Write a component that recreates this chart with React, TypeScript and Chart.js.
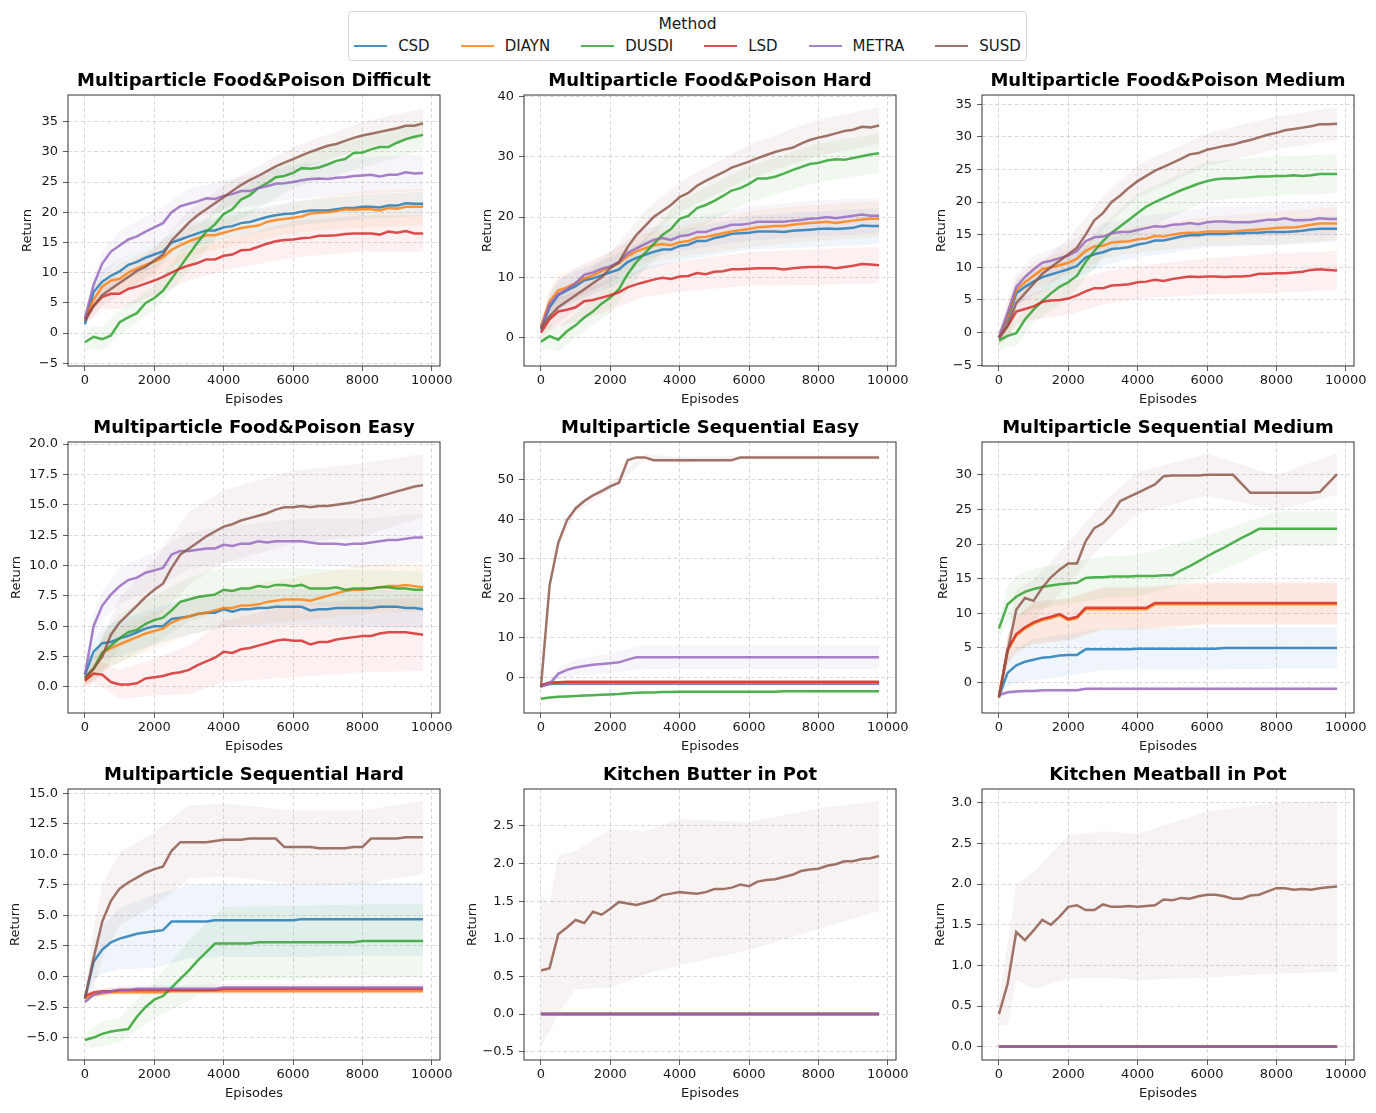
import Chart from 'chart.js/auto';
import { useEffect, useRef } from 'react';

Chart.defaults.font.family = 'DejaVu Sans';

const METHODS = ['CSD', 'DIAYN', 'DUSDI', 'LSD', 'METRA', 'SUSD'];
const COLORS = ['31,119,180', '255,127,14', '44,160,44', '214,39,40', '148,103,189', '140,86,75'];

const EPISODES = [
	0, 250, 500, 750, 1000, 1250, 1500, 1750, 2000, 2250,
	2500, 2750, 3000, 3250, 3500, 3750, 4000, 4250, 4500, 4750,
	5000, 5250, 5500, 5750, 6000, 6250, 6500, 6750, 7000, 7250,
	7500, 7750, 8000, 8250, 8500, 8750, 9000, 9250, 9500, 9750,
];
// std bands are read at fewer episodes
const BAND_EPISODES = [0, 250, 500, 1000, 2000, 3000, 4000, 6000, 8000, 9750];
const X_TICKS = [0, 2000, 4000, 6000, 8000, 10000];

const FLAT_ZERO = [
	0, 0, 0, 0, 0, 0, 0, 0, 0, 0,
	0, 0, 0, 0, 0, 0, 0, 0, 0, 0,
	0, 0, 0, 0, 0, 0, 0, 0, 0, 0,
	0, 0, 0, 0, 0, 0, 0, 0, 0, 0,
];

// Multiparticle Food&Poison Difficult
const difficultMean: Record<string, number[]> = {
	CSD: [
		1.5, 6.8, 8.5, 9.5, 10.2, 11.3, 11.8, 12.5, 13.0, 13.5,
		15.0, 15.5, 16.0, 16.5, 17.0, 17.0, 17.5, 17.7, 18.2, 18.4,
		18.8, 19.2, 19.5, 19.7, 19.8, 20.1, 20.3, 20.3, 20.3, 20.5,
		20.7, 20.7, 20.9, 20.9, 20.8, 21.1, 21.1, 21.5, 21.4, 21.4,
	],
	DIAYN: [
		2.5, 5.5, 7.7, 8.7, 9.0, 10.0, 10.7, 11.3, 11.8, 12.5,
		13.8, 14.5, 15.2, 15.7, 16.2, 16.2, 16.6, 17.0, 17.4, 17.6,
		17.8, 18.4, 18.7, 18.9, 19.1, 19.3, 19.8, 19.9, 20.0, 20.2,
		20.5, 20.4, 20.5, 20.5, 20.3, 20.7, 20.6, 20.9, 20.9, 20.9,
	],
	DUSDI: [
		-1.5, -0.6, -1.0, -0.4, 1.8, 2.6, 3.3, 5.0, 5.8, 7.0,
		9.0, 11.0, 13.0, 15.0, 16.8, 18.0, 19.7, 20.5, 22.1, 22.8,
		24.0, 24.8, 25.8, 26.0, 26.5, 27.3, 27.2, 27.4, 27.9, 28.5,
		28.8, 29.8, 29.9, 30.4, 30.8, 30.8, 31.5, 32.1, 32.5, 32.8,
	],
	LSD: [
		2.3, 4.5, 6.0, 6.5, 6.5, 7.3, 7.7, 8.2, 8.7, 9.3,
		10.0, 10.7, 11.2, 11.6, 12.2, 12.2, 12.8, 13.0, 13.7, 13.8,
		14.3, 14.8, 15.2, 15.4, 15.5, 15.7, 15.8, 16.1, 16.1, 16.2,
		16.4, 16.5, 16.5, 16.5, 16.3, 16.8, 16.6, 16.9, 16.5, 16.5,
	],
	METRA: [
		2.5, 8.0, 11.5, 13.5, 14.5, 15.5, 16.0, 16.8, 17.5, 18.2,
		20.0, 21.0, 21.4, 21.8, 22.3, 22.2, 22.7, 23.0, 23.5, 23.5,
		24.0, 24.3, 24.7, 24.8, 25.0, 25.3, 25.5, 25.6, 25.5, 25.7,
		25.8, 26.0, 26.1, 26.2, 25.9, 26.2, 26.2, 26.6, 26.4, 26.5,
	],
	SUSD: [
		2.0, 4.5, 6.3, 7.3, 8.3, 9.3, 10.3, 11.0, 12.0, 13.0,
		15.3, 16.8, 18.3, 19.5, 20.5, 21.5, 22.5, 23.5, 24.5, 25.3,
		26.0, 26.8, 27.6, 28.2, 28.8, 29.4, 30.0, 30.5, 31.0, 31.3,
		31.8, 32.3, 32.7, 33.0, 33.3, 33.6, 33.9, 34.3, 34.3, 34.7,
	],
};
const difficultSpread: Record<string, number[]> = {
	CSD: [0.8, 1.8, 2, 2, 2, 2, 2, 2, 2, 2],
	DIAYN: [0.8, 1.8, 2, 2.5, 2.5, 2.5, 2.5, 2.5, 3, 3],
	DUSDI: [1.5, 1.8, 2, 2, 2, 2.5, 2.5, 2.5, 2.5, 2.5],
	LSD: [0.8, 1.8, 2, 2.5, 2.5, 2.5, 2.5, 3, 3, 3],
	METRA: [0.8, 1.8, 2, 2.5, 2.5, 2.5, 2.5, 2.8, 3, 3],
	SUSD: [0.8, 1.5, 1.8, 2, 2, 2, 2, 2, 2.2, 2.5],
};

// Multiparticle Food&Poison Hard
const hardMean: Record<string, number[]> = {
	CSD: [
		1.3, 5.0, 7.0, 7.8, 8.5, 9.5, 9.8, 10.3, 10.8, 11.3,
		12.5, 13.2, 13.7, 14.2, 14.6, 14.6, 15.2, 15.4, 16.0, 16.0,
		16.5, 16.8, 17.2, 17.3, 17.4, 17.6, 17.6, 17.6, 17.5, 17.7,
		17.8, 17.9, 18.0, 18.1, 18.0, 18.1, 18.2, 18.6, 18.5, 18.5,
	],
	DIAYN: [
		1.8, 6.0, 7.8, 8.3, 9.0, 9.8, 10.3, 11.0, 11.7, 12.3,
		13.5, 14.3, 14.8, 15.3, 15.5, 15.3, 15.8, 16.0, 16.6, 16.7,
		17.0, 17.3, 17.6, 17.8, 18.0, 18.3, 18.4, 18.5, 18.5, 18.7,
		18.9, 19.0, 19.1, 19.2, 19.0, 19.2, 19.4, 19.6, 19.7, 19.7,
	],
	DUSDI: [
		-0.7, 0.2, -0.4, 1.0, 2.0, 3.3, 4.3, 5.6, 6.6, 8.0,
		10.5, 12.5, 14.0, 15.5, 17.0, 18.0, 19.7, 20.2, 21.5, 22.0,
		22.7, 23.5, 24.4, 24.8, 25.5, 26.4, 26.4, 26.7, 27.2, 27.8,
		28.3, 28.8, 29.0, 29.4, 29.6, 29.5, 29.8, 30.1, 30.4, 30.6,
	],
	LSD: [
		0.8, 3.0, 4.3, 4.6, 5.0, 6.0, 6.2, 6.6, 7.0, 7.5,
		8.3, 8.8, 9.2, 9.6, 9.9, 9.7, 10.1, 10.2, 10.7, 10.5,
		10.9, 11.0, 11.3, 11.3, 11.4, 11.5, 11.5, 11.5, 11.3, 11.5,
		11.6, 11.7, 11.7, 11.7, 11.5, 11.7, 11.9, 12.2, 12.1, 12.0,
	],
	METRA: [
		1.5, 5.5, 7.2, 8.0, 9.0, 10.4, 10.8, 11.4, 11.8, 12.5,
		14.0, 14.8, 15.5, 16.2, 16.5, 16.2, 16.8, 17.0, 17.5, 17.5,
		18.0, 18.3, 18.7, 18.7, 18.9, 19.2, 19.2, 19.2, 19.2, 19.4,
		19.5, 19.7, 19.8, 20.0, 19.8, 20.0, 20.2, 20.4, 20.2, 20.2,
	],
	SUSD: [
		1.5, 3.5, 5.0, 6.0, 7.0, 8.0, 9.0, 10.0, 11.5, 12.5,
		15.0, 17.0, 18.5, 20.0, 21.0, 22.0, 23.3, 24.0, 25.2, 26.0,
		26.7, 27.4, 28.2, 28.7, 29.2, 29.8, 30.3, 30.8, 31.2, 31.5,
		32.2, 32.8, 33.2, 33.5, 33.9, 34.3, 34.5, 35.0, 34.9, 35.2,
	],
};
const hardSpread: Record<string, number[]> = {
	CSD: [0.8, 2, 2.5, 2.5, 2.5, 2.5, 2.5, 2.8, 3, 3],
	DIAYN: [0.8, 2, 2.5, 2.5, 2.5, 2.5, 2.5, 3, 3, 3],
	DUSDI: [1.5, 2, 2, 2, 2.5, 2.5, 3, 3, 3.2, 3.3],
	LSD: [0.8, 2, 2.5, 2.5, 2.5, 2.5, 2.5, 2.8, 3, 3],
	METRA: [0.8, 2, 2.5, 2.5, 2.5, 2.5, 2.5, 2.8, 3, 3],
	SUSD: [0.8, 2, 2.5, 2.5, 2.5, 2.5, 2.5, 2.8, 3, 3],
};

// Multiparticle Food&Poison Medium
const mediumMean: Record<string, number[]> = {
	CSD: [
		-0.8, 2.0, 6.0, 7.0, 7.8, 8.5, 8.9, 9.3, 9.7, 10.2,
		11.5, 12.0, 12.3, 12.8, 12.9, 13.1, 13.5, 13.7, 14.1, 14.1,
		14.4, 14.7, 14.9, 14.9, 15.1, 15.1, 15.1, 15.2, 15.2, 15.3,
		15.3, 15.4, 15.4, 15.4, 15.5, 15.6, 15.8, 15.9, 15.9, 15.9,
	],
	DIAYN: [
		-0.8, 2.5, 6.5, 7.7, 8.7, 9.7, 10.0, 10.3, 10.7, 11.3,
		12.5, 13.2, 13.3, 13.8, 13.9, 14.0, 14.3, 14.4, 14.8, 14.7,
		15.0, 15.2, 15.3, 15.3, 15.5, 15.5, 15.5, 15.5, 15.6, 15.7,
		15.8, 15.9, 16.0, 16.1, 16.1, 16.3, 16.5, 16.7, 16.7, 16.7,
	],
	DUSDI: [
		-1.2, -0.5, -0.1, 2.0, 3.5, 4.8, 6.0, 7.0, 7.7, 8.7,
		10.8, 12.5, 14.0, 15.3, 16.3, 17.3, 18.3, 19.3, 20.0, 20.6,
		21.2, 21.8, 22.3, 22.8, 23.2, 23.5, 23.6, 23.6, 23.7, 23.8,
		23.9, 23.9, 24.0, 24.0, 24.1, 24.0, 24.1, 24.3, 24.3, 24.3,
	],
	LSD: [
		-0.8, 1.0, 3.2, 3.6, 4.0, 4.7, 4.9, 5.0, 5.2, 5.7,
		6.3, 6.8, 6.8, 7.2, 7.3, 7.4, 7.7, 7.8, 8.1, 7.9,
		8.2, 8.4, 8.6, 8.5, 8.6, 8.6, 8.5, 8.6, 8.6, 8.7,
		9.0, 9.0, 9.1, 9.1, 9.2, 9.3, 9.6, 9.7, 9.6, 9.5,
	],
	METRA: [
		-0.8, 3.0, 7.0, 8.5, 9.7, 10.7, 11.0, 11.4, 11.8, 12.5,
		14.0, 14.6, 14.7, 15.2, 15.4, 15.4, 15.7, 16.0, 16.3, 16.2,
		16.5, 16.6, 16.8, 16.6, 16.9, 17.0, 17.0, 16.9, 16.9, 16.9,
		17.1, 17.3, 17.3, 17.5, 17.2, 17.2, 17.3, 17.5, 17.4, 17.4,
	],
	SUSD: [
		-0.8, 1.0, 4.5, 6.0, 7.5, 9.0, 10.0, 11.0, 12.0, 13.0,
		15.0, 17.2, 18.3, 20.0, 21.0, 22.2, 23.2, 24.0, 24.8, 25.4,
		26.0, 26.6, 27.3, 27.5, 28.0, 28.3, 28.6, 28.8, 29.2, 29.5,
		29.9, 30.3, 30.6, 31.0, 31.2, 31.4, 31.6, 31.9, 31.9, 32.0,
	],
};
const mediumSpread: Record<string, number[]> = {
	CSD: [1, 2, 2, 2, 2, 2, 2, 2, 2, 2],
	DIAYN: [1, 2, 2, 2, 2, 2, 2, 2.2, 2.5, 2.5],
	DUSDI: [1.5, 1.8, 2, 2, 2.5, 2.5, 3, 3, 3, 3],
	LSD: [1, 2, 2, 2, 2.5, 2.5, 2.5, 2.8, 3, 3],
	METRA: [1, 2, 2, 2, 2, 2, 2, 2.3, 2.5, 2.5],
	SUSD: [1, 1.5, 2, 2, 2.5, 2.5, 2.5, 2.5, 2.5, 2.5],
};

// Multiparticle Food&Poison Easy
const easyMean: Record<string, number[]> = {
	CSD: [
		1.0, 2.9, 3.6, 3.7, 4.0, 4.2, 4.5, 4.8, 5.0, 5.0,
		5.6, 5.7, 5.8, 6.0, 6.1, 6.1, 6.4, 6.2, 6.4, 6.4,
		6.5, 6.5, 6.6, 6.6, 6.6, 6.6, 6.3, 6.4, 6.4, 6.5,
		6.5, 6.5, 6.5, 6.5, 6.6, 6.6, 6.6, 6.5, 6.5, 6.4,
	],
	DIAYN: [
		0.5, 1.5, 2.8, 3.2, 3.5, 3.8, 4.1, 4.4, 4.6, 4.8,
		5.3, 5.6, 5.8, 6.0, 6.1, 6.3, 6.5, 6.5, 6.7, 6.7,
		6.8, 7.0, 7.1, 7.2, 7.2, 7.2, 7.1, 7.3, 7.5, 7.7,
		7.9, 8.0, 8.0, 8.1, 8.2, 8.3, 8.3, 8.4, 8.3, 8.2,
	],
	DUSDI: [
		0.8, 1.5, 2.8, 3.4, 4.0, 4.5, 4.7, 5.2, 5.5, 5.7,
		6.3, 7.0, 7.2, 7.4, 7.5, 7.6, 8.0, 7.9, 8.1, 8.1,
		8.3, 8.2, 8.4, 8.4, 8.3, 8.4, 8.1, 8.1, 8.1, 8.2,
		8.0, 8.1, 8.1, 8.1, 8.2, 8.2, 8.1, 8.1, 8.0, 8.0,
	],
	LSD: [
		0.5, 1.1, 1.0, 0.4, 0.2, 0.2, 0.3, 0.7, 0.8, 0.9,
		1.1, 1.2, 1.4, 1.8, 2.1, 2.4, 2.9, 2.8, 3.1, 3.2,
		3.4, 3.6, 3.8, 3.9, 3.8, 3.8, 3.5, 3.7, 3.7, 3.9,
		4.0, 4.1, 4.2, 4.2, 4.4, 4.5, 4.5, 4.5, 4.4, 4.3,
	],
	METRA: [
		1.0, 5.0, 6.7, 7.6, 8.3, 8.8, 9.0, 9.4, 9.6, 9.8,
		10.9, 11.2, 11.2, 11.3, 11.4, 11.4, 11.7, 11.6, 11.8, 11.8,
		12.0, 11.9, 12.0, 12.0, 12.0, 12.0, 11.9, 11.8, 11.8, 11.8,
		11.7, 11.8, 11.8, 11.9, 12.0, 12.1, 12.1, 12.2, 12.3, 12.3,
	],
	SUSD: [
		0.7, 1.5, 2.5, 4.3, 5.3, 6.0, 6.7, 7.4, 8.0, 8.5,
		9.8, 10.9, 11.4, 11.9, 12.4, 12.8, 13.2, 13.4, 13.7, 13.9,
		14.1, 14.3, 14.6, 14.8, 14.8, 14.9, 14.8, 14.9, 14.9, 15.0,
		15.1, 15.2, 15.4, 15.5, 15.7, 15.9, 16.1, 16.3, 16.5, 16.6,
	],
};
const easySpread: Record<string, number[]> = {
	CSD: [0.5, 1, 1.3, 1.5, 1.5, 1.5, 1.5, 1.5, 1.5, 1.5],
	DIAYN: [0.5, 1, 1.3, 1.5, 1.5, 1.5, 1.5, 1.8, 2, 2],
	DUSDI: [0.5, 1, 1.5, 2, 2, 1.8, 1.8, 1.5, 1.5, 1.5],
	LSD: [0.5, 0.8, 1, 1.2, 1.5, 2, 2.5, 3, 3, 3],
	METRA: [0.5, 1, 1.2, 1.5, 1.5, 1.5, 1.5, 1.8, 2, 2],
	SUSD: [0.5, 1, 1.5, 2, 2.5, 3, 3, 3, 3, 2.6],
};

// Multiparticle Sequential Easy
const seqEasyMean: Record<string, number[]> = {
	CSD: [
		-2.2, -1.7, -1.6, -1.6, -1.6, -1.6, -1.6, -1.6, -1.6, -1.6,
		-1.6, -1.6, -1.6, -1.6, -1.6, -1.6, -1.6, -1.6, -1.6, -1.6,
		-1.6, -1.6, -1.6, -1.6, -1.6, -1.6, -1.6, -1.6, -1.6, -1.6,
		-1.6, -1.6, -1.6, -1.6, -1.6, -1.6, -1.6, -1.6, -1.6, -1.6,
	],
	DIAYN: [
		-2.2, -1.5, -1.4, -1.4, -1.4, -1.4, -1.4, -1.4, -1.4, -1.4,
		-1.4, -1.4, -1.4, -1.4, -1.4, -1.4, -1.4, -1.4, -1.4, -1.4,
		-1.4, -1.4, -1.4, -1.4, -1.4, -1.4, -1.4, -1.4, -1.4, -1.4,
		-1.4, -1.4, -1.4, -1.4, -1.4, -1.4, -1.4, -1.4, -1.4, -1.4,
	],
	DUSDI: [
		-5.4, -5.1, -4.9, -4.8, -4.7, -4.6, -4.5, -4.4, -4.3, -4.2,
		-4.0, -3.9, -3.8, -3.8, -3.7, -3.7, -3.6, -3.6, -3.6, -3.6,
		-3.6, -3.6, -3.6, -3.6, -3.6, -3.6, -3.6, -3.6, -3.5, -3.5,
		-3.5, -3.5, -3.5, -3.5, -3.5, -3.5, -3.5, -3.5, -3.5, -3.5,
	],
	LSD: [
		-2.0, -1.3, -1.2, -1.1, -1.1, -1.1, -1.1, -1.1, -1.1, -1.1,
		-1.1, -1.1, -1.1, -1.1, -1.1, -1.1, -1.1, -1.1, -1.1, -1.1,
		-1.1, -1.1, -1.1, -1.1, -1.1, -1.1, -1.1, -1.1, -1.1, -1.1,
		-1.1, -1.1, -1.1, -1.1, -1.1, -1.1, -1.1, -1.1, -1.1, -1.1,
	],
	METRA: [
		-2.3, -1.6, 0.9, 1.9, 2.5, 2.9, 3.2, 3.4, 3.6, 3.8,
		4.5, 5.1, 5.1, 5.1, 5.1, 5.1, 5.1, 5.1, 5.1, 5.1,
		5.1, 5.1, 5.1, 5.1, 5.1, 5.1, 5.1, 5.1, 5.1, 5.1,
		5.1, 5.1, 5.1, 5.1, 5.1, 5.1, 5.1, 5.1, 5.1, 5.1,
	],
	SUSD: [
		-2.5, 23.2, 34.0, 39.7, 42.7, 44.6, 46.0, 47.1, 48.3, 49.2,
		54.9, 55.6, 55.6, 54.9, 54.9, 54.9, 54.9, 54.9, 54.9, 54.9,
		54.9, 54.9, 54.9, 55.6, 55.6, 55.6, 55.6, 55.6, 55.6, 55.6,
		55.6, 55.6, 55.6, 55.6, 55.6, 55.6, 55.6, 55.6, 55.6, 55.6,
	],
};
const seqEasySpread: Record<string, number[]> = {
	CSD: [0.3, 0.3, 0.3, 0.3, 0.3, 0.3, 0.3, 0.3, 0.3, 0.3],
	DIAYN: [0.3, 0.3, 0.3, 0.3, 0.3, 0.3, 0.3, 0.3, 0.3, 0.3],
	DUSDI: [0.3, 0.3, 0.3, 0.3, 0.3, 0.3, 0.3, 0.3, 0.3, 0.3],
	LSD: [0.3, 0.3, 0.3, 0.3, 0.3, 0.3, 0.3, 0.3, 0.3, 0.3],
	METRA: [0.2, 0.5, 1.5, 2, 2.5, 3, 3, 3, 3, 3],
	SUSD: [0.5, 1, 1, 1, 1, 0.8, 0.8, 0.5, 0.5, 0.5],
};

// Multiparticle Sequential Medium
const seqMediumMean: Record<string, number[]> = {
	CSD: [
		-2.0, 1.4, 2.5, 3.0, 3.3, 3.6, 3.7, 3.9, 4.0, 4.0,
		4.8, 4.8, 4.8, 4.8, 4.8, 4.8, 4.9, 4.9, 4.9, 4.9,
		4.9, 4.9, 4.9, 4.9, 4.9, 4.9, 5.0, 5.0, 5.0, 5.0,
		5.0, 5.0, 5.0, 5.0, 5.0, 5.0, 5.0, 5.0, 5.0, 5.0,
	],
	DIAYN: [
		-2.1, 4.6, 6.8, 7.8, 8.5, 9.0, 9.3, 9.7, 9.0, 9.3,
		10.6, 10.6, 10.6, 10.6, 10.6, 10.6, 10.6, 10.6, 11.3, 11.3,
		11.3, 11.3, 11.3, 11.3, 11.3, 11.3, 11.3, 11.3, 11.3, 11.3,
		11.3, 11.3, 11.3, 11.3, 11.3, 11.3, 11.3, 11.3, 11.3, 11.3,
	],
	DUSDI: [
		7.8, 11.3, 12.4, 13.1, 13.5, 13.8, 14.0, 14.2, 14.3, 14.4,
		15.1, 15.2, 15.2, 15.3, 15.3, 15.3, 15.4, 15.4, 15.4, 15.5,
		15.5, 16.2, 16.8, 17.5, 18.2, 18.9, 19.5, 20.2, 20.9, 21.5,
		22.2, 22.2, 22.2, 22.2, 22.2, 22.2, 22.2, 22.2, 22.2, 22.2,
	],
	LSD: [
		-2.0, 4.8, 7.0, 8.0, 8.7, 9.2, 9.5, 9.9, 9.2, 9.5,
		10.8, 10.8, 10.8, 10.8, 10.8, 10.8, 10.8, 10.8, 11.5, 11.5,
		11.5, 11.5, 11.5, 11.5, 11.5, 11.5, 11.5, 11.5, 11.5, 11.5,
		11.5, 11.5, 11.5, 11.5, 11.5, 11.5, 11.5, 11.5, 11.5, 11.5,
	],
	METRA: [
		-1.8, -1.4, -1.3, -1.2, -1.2, -1.1, -1.1, -1.1, -1.1, -1.1,
		-0.9, -0.9, -0.9, -0.9, -0.9, -0.9, -0.9, -0.9, -0.9, -0.9,
		-0.9, -0.9, -0.9, -0.9, -0.9, -0.9, -0.9, -0.9, -0.9, -0.9,
		-0.9, -0.9, -0.9, -0.9, -0.9, -0.9, -0.9, -0.9, -0.9, -0.9,
	],
	SUSD: [
		-2.2, 4.5, 10.5, 12.2, 11.8, 13.7, 15.2, 16.3, 17.2, 17.2,
		20.4, 22.3, 23.0, 24.3, 26.2, 26.8, 27.4, 28.0, 28.6, 29.8,
		29.9, 29.9, 29.9, 29.9, 30.0, 30.0, 30.0, 30.0, 28.7, 27.4,
		27.4, 27.4, 27.4, 27.4, 27.4, 27.4, 27.4, 27.5, 28.8, 30.1,
	],
};
const seqMediumSpread: Record<string, number[]> = {
	CSD: [0.3, 2, 2.5, 3, 3, 3, 3, 3, 3, 3],
	DIAYN: [0.3, 2, 2.5, 3, 3, 3, 3, 3, 3, 3],
	DUSDI: [1.5, 2.5, 3, 3, 3, 3, 3, 3, 2.5, 2.5],
	LSD: [0.3, 2, 2.5, 3, 3, 3, 3, 3, 3, 3],
	METRA: [0.3, 0.3, 0.3, 0.3, 0.3, 0.3, 0.3, 0.3, 0.3, 0.3],
	SUSD: [0.3, 2, 3, 3, 3, 3, 3, 3, 2.5, 3],
};

// Multiparticle Sequential Hard
const seqHardMean: Record<string, number[]> = {
	CSD: [
		-1.8, 1.2, 2.2, 2.8, 3.1, 3.3, 3.5, 3.6, 3.7, 3.8,
		4.5, 4.5, 4.5, 4.5, 4.5, 4.6, 4.6, 4.6, 4.6, 4.6,
		4.6, 4.6, 4.6, 4.6, 4.6, 4.7, 4.7, 4.7, 4.7, 4.7,
		4.7, 4.7, 4.7, 4.7, 4.7, 4.7, 4.7, 4.7, 4.7, 4.7,
	],
	DIAYN: [
		-1.8, -1.5, -1.4, -1.3, -1.3, -1.3, -1.3, -1.3, -1.3, -1.3,
		-1.2, -1.2, -1.2, -1.2, -1.2, -1.2, -1.2, -1.2, -1.2, -1.2,
		-1.2, -1.2, -1.2, -1.2, -1.2, -1.2, -1.2, -1.2, -1.2, -1.2,
		-1.2, -1.2, -1.2, -1.2, -1.2, -1.2, -1.2, -1.2, -1.2, -1.2,
	],
	DUSDI: [
		-5.2, -5.0, -4.7, -4.5, -4.4, -4.3, -3.3, -2.5, -1.9, -1.6,
		-0.9, -0.2, 0.5, 1.3, 2.0, 2.7, 2.7, 2.7, 2.7, 2.7,
		2.8, 2.8, 2.8, 2.8, 2.8, 2.8, 2.8, 2.8, 2.8, 2.8,
		2.8, 2.8, 2.9, 2.9, 2.9, 2.9, 2.9, 2.9, 2.9, 2.9,
	],
	LSD: [
		-1.6, -1.3, -1.2, -1.2, -1.1, -1.1, -1.1, -1.1, -1.1, -1.1,
		-1.1, -1.1, -1.1, -1.1, -1.1, -1.1, -1.0, -1.0, -1.0, -1.0,
		-1.0, -1.0, -1.0, -1.0, -1.0, -1.0, -1.0, -1.0, -1.0, -1.0,
		-1.0, -1.0, -1.0, -1.0, -1.0, -1.0, -1.0, -1.0, -1.0, -1.0,
	],
	METRA: [
		-2.1, -1.5, -1.3, -1.2, -1.1, -1.1, -1.0, -1.0, -1.0, -1.0,
		-1.0, -1.0, -1.0, -1.0, -1.0, -1.0, -0.9, -0.9, -0.9, -0.9,
		-0.9, -0.9, -0.9, -0.9, -0.9, -0.9, -0.9, -0.9, -0.9, -0.9,
		-0.9, -0.9, -0.9, -0.9, -0.9, -0.9, -0.9, -0.9, -0.9, -0.9,
	],
	SUSD: [
		-1.8, 1.5, 4.5, 6.2, 7.2, 7.7, 8.1, 8.5, 8.8, 9.0,
		10.3, 11.0, 11.0, 11.0, 11.0, 11.1, 11.2, 11.2, 11.2, 11.3,
		11.3, 11.3, 11.3, 10.6, 10.6, 10.6, 10.6, 10.5, 10.5, 10.5,
		10.5, 10.6, 10.6, 11.3, 11.3, 11.3, 11.3, 11.4, 11.4, 11.4,
	],
};
const seqHardSpread: Record<string, number[]> = {
	CSD: [0.3, 1.5, 2, 2.5, 3, 3, 3, 3, 3, 3],
	DIAYN: [0.2, 0.2, 0.2, 0.2, 0.2, 0.2, 0.2, 0.2, 0.2, 0.2],
	DUSDI: [0.5, 0.8, 1, 1, 1.5, 2.5, 3, 3, 3, 3],
	LSD: [0.2, 0.2, 0.2, 0.2, 0.2, 0.2, 0.2, 0.2, 0.2, 0.2],
	METRA: [0.3, 0.3, 0.3, 0.3, 0.3, 0.3, 0.3, 0.3, 0.3, 0.3],
	SUSD: [0.3, 2.5, 3, 3, 3, 3, 3, 3, 3, 3],
};

// Kitchen Butter in Pot
const butterMean: Record<string, number[]> = {
	CSD: FLAT_ZERO,
	DIAYN: FLAT_ZERO,
	DUSDI: FLAT_ZERO,
	LSD: FLAT_ZERO,
	METRA: FLAT_ZERO,
	SUSD: [
		0.58, 0.61, 1.06, 1.15, 1.25, 1.21, 1.36, 1.32, 1.40, 1.49,
		1.47, 1.45, 1.48, 1.51, 1.58, 1.60, 1.62, 1.61, 1.60, 1.62,
		1.66, 1.66, 1.68, 1.72, 1.70, 1.76, 1.78, 1.79, 1.82, 1.85,
		1.90, 1.92, 1.93, 1.97, 1.99, 2.03, 2.03, 2.06, 2.07, 2.10,
	],
};
const butterSpread: Record<string, number[]> = {
	SUSD: [1.0, 0.85, 1.05, 0.92, 1.05, 0.95, 0.97, 0.85, 0.8, 0.73],
};

// Kitchen Meatball in Pot
const meatballMean: Record<string, number[]> = {
	CSD: FLAT_ZERO,
	DIAYN: FLAT_ZERO,
	DUSDI: FLAT_ZERO,
	LSD: FLAT_ZERO,
	METRA: FLAT_ZERO,
	SUSD: [
		0.40, 0.77, 1.41, 1.31, 1.43, 1.56, 1.50, 1.60, 1.72, 1.74,
		1.68, 1.68, 1.75, 1.72, 1.72, 1.73, 1.72, 1.73, 1.74, 1.81,
		1.80, 1.83, 1.82, 1.85, 1.87, 1.87, 1.85, 1.82, 1.82, 1.86,
		1.87, 1.91, 1.95, 1.95, 1.93, 1.94, 1.93, 1.95, 1.96, 1.97,
	],
};
const meatballSpread: Record<string, number[]> = {
	SUSD: [0.15, 0.5, 0.58, 0.72, 0.88, 0.9, 0.9, 1.02, 1.05, 1.05],
};

const PANELS = [
	{ title: 'Multiparticle Food&Poison Difficult', mean: difficultMean, spread: difficultSpread, yMin: -5.44, yMax: 39.4, yTicks: [-5, 0, 5, 10, 15, 20, 25, 30, 35], decimals: 0 },
	{ title: 'Multiparticle Food&Poison Hard', mean: hardMean, spread: hardSpread, yMin: -4.76, yMax: 40.28, yTicks: [0, 10, 20, 30, 40], decimals: 0 },
	{ title: 'Multiparticle Food&Poison Medium', mean: mediumMean, spread: mediumSpread, yMin: -5.13, yMax: 36.4, yTicks: [-5, 0, 5, 10, 15, 20, 25, 30, 35], decimals: 0 },
	{ title: 'Multiparticle Food&Poison Easy', mean: easyMean, spread: easySpread, yMin: -2.15, yMax: 20.17, yTicks: [0, 2.5, 5, 7.5, 10, 12.5, 15, 17.5, 20], decimals: 1 },
	{ title: 'Multiparticle Sequential Easy', mean: seqEasyMean, spread: seqEasySpread, yMin: -9.0, yMax: 59.5, yTicks: [0, 10, 20, 30, 40, 50], decimals: 0 },
	{ title: 'Multiparticle Sequential Medium', mean: seqMediumMean, spread: seqMediumSpread, yMin: -4.39, yMax: 34.73, yTicks: [0, 5, 10, 15, 20, 25, 30], decimals: 0 },
	{ title: 'Multiparticle Sequential Hard', mean: seqHardMean, spread: seqHardSpread, yMin: -6.84, yMax: 15.36, yTicks: [-5, -2.5, 0, 2.5, 5, 7.5, 10, 12.5, 15], decimals: 1 },
	{ title: 'Kitchen Butter in Pot', mean: butterMean, spread: butterSpread, yMin: -0.61, yMax: 2.99, yTicks: [-0.5, 0, 0.5, 1, 1.5, 2, 2.5], decimals: 1 },
	{ title: 'Kitchen Meatball in Pot', mean: meatballMean, spread: meatballSpread, yMin: -0.164, yMax: 3.17, yTicks: [0, 0.5, 1, 1.5, 2, 2.5, 3], decimals: 1 },
];

// page geometry (plot boxes of the 3x3 grid)
const COL_LEFT = [68, 524, 982];
const ROW_TOP = [95, 442, 789];
const PLOT_W = 372;
const PLOT_H = 271;
const RETURN_X = [28, 488, 942, 17, 488, 944, 16, 473, 941];
const TITLE_H = 24;
const XAXIS_H = 41;
const RIGHT_PAD = 22;
const TICK_FONT = 13;

const fmtTick = (v: number, d: number) => v.toFixed(d).replace('-', '\u2212');

const framePlugin = {
	id: 'frame',
	afterDraw(chart: Chart) {
		const { ctx, chartArea } = chart;
		ctx.save();
		ctx.strokeStyle = '#333';
		ctx.lineWidth = 1;
		ctx.strokeRect(chartArea.left, chartArea.top, chartArea.right - chartArea.left, chartArea.bottom - chartArea.top);
		ctx.restore();
	},
};

function Panel({ index }: { index: number }) {
	const panel = PANELS[index];
	const chartRef = useRef<HTMLCanvasElement | null>(null);

	const col = index % 3;
	const row = Math.floor(index / 3);
	const canvasLeft = Math.round(RETURN_X[index] - TICK_FONT * 0.6);
	const yAxisW = COL_LEFT[col] - canvasLeft;
	const width = yAxisW + PLOT_W + RIGHT_PAD;
	const height = TITLE_H + PLOT_H + XAXIS_H;
	const top = ROW_TOP[row] - TITLE_H;

	useEffect(() => {
		if (!chartRef.current) return;
		const existing = Chart.getChart(chartRef.current);
		if (existing) existing.destroy();

		const datasets: any[] = [];
		// std bands first (drawn underneath all lines)
		METHODS.forEach((m, i) => {
			const spread = panel.spread[m];
			if (!spread) return;
			const mean = panel.mean[m];
			const lower = BAND_EPISODES.map((x, k) => ({ x, y: mean[EPISODES.indexOf(x)] - spread[k] }));
			const upper = BAND_EPISODES.map((x, k) => ({ x, y: mean[EPISODES.indexOf(x)] + spread[k] }));
			datasets.push({
				data: lower,
				borderColor: 'transparent',
				borderWidth: 0,
				pointRadius: 0,
				fill: false,
				order: 20,
			});
			datasets.push({
				data: upper,
				borderColor: 'transparent',
				borderWidth: 0,
				pointRadius: 0,
				backgroundColor: `rgba(${COLORS[i]},0.07)`,
				fill: '-1',
				order: 20,
			});
		});
		METHODS.forEach((m, i) => {
			datasets.push({
				label: m,
				data: EPISODES.map((x, k) => ({ x, y: panel.mean[m][k] })),
				borderColor: `rgba(${COLORS[i]},0.82)`,
				borderWidth: 2.5,
				pointRadius: 0,
				tension: 0,
				fill: false,
				order: 5 - i,
			});
		});

		const gridCommon = {
			color: 'rgba(176,176,176,0.6)',
			lineWidth: 0.8,
			tickLength: 5,
			tickColor: '#333',
			tickWidth: 0.8,
		};

		const chart = new Chart(chartRef.current, {
			type: 'line',
			data: { datasets },
			options: {
				responsive: false,
				animation: false,
				events: [],
				layout: { padding: { left: 0, right: RIGHT_PAD, top: 0, bottom: 0 } },
				plugins: {
					legend: { display: false },
					tooltip: { enabled: false },
					title: {
						display: true,
						text: panel.title,
						fullSize: false,
						color: '#000',
						font: { family: 'DejaVu Sans', size: 18, weight: 'bold' },
						padding: { top: 0, bottom: 2.4 },
					},
				},
				scales: {
					x: {
						type: 'linear',
						min: -487.5,
						max: 10237.5,
						afterBuildTicks: (axis: any) => {
							axis.ticks = X_TICKS.map((value) => ({ value }));
						},
						afterFit: (axis: any) => {
							axis.height = XAXIS_H;
						},
						grid: gridCommon,
						border: { display: false, dash: [4, 2.5] },
						ticks: {
							autoSkip: false,
							maxRotation: 0,
							padding: 2,
							color: '#1a1a1a',
							font: { size: TICK_FONT },
							callback: (v: any) => String(v),
						},
						title: {
							display: true,
							text: 'Episodes',
							color: '#1a1a1a',
							font: { size: TICK_FONT },
							padding: 0,
						},
					},
					y: {
						type: 'linear',
						min: panel.yMin,
						max: panel.yMax,
						afterBuildTicks: (axis: any) => {
							axis.ticks = panel.yTicks.map((value) => ({ value }));
						},
						afterFit: (axis: any) => {
							axis.width = yAxisW;
						},
						grid: gridCommon,
						border: { display: false, dash: [4, 2.5] },
						ticks: {
							autoSkip: false,
							padding: 5,
							color: '#1a1a1a',
							font: { size: TICK_FONT },
							callback: (v: any) => fmtTick(Number(v), panel.decimals),
						},
						title: {
							display: true,
							text: 'Return',
							color: '#1a1a1a',
							font: { size: TICK_FONT },
							padding: 0,
						},
					},
				},
			},
			plugins: [framePlugin],
		});

		return () => {
			chart.destroy();
		};
	}, [index]);

	return (
		<canvas
			ref={chartRef}
			width={width}
			height={height}
			style={{ position: 'absolute', left: canvasLeft, top, width, height }}
		></canvas>
	);
}

function Legend() {
	return (
		<div
			style={{
				position: 'absolute',
				left: 348,
				top: 11,
				width: 679,
				height: 50,
				boxSizing: 'border-box',
				border: '1px solid #d6d6d6',
				borderRadius: 4,
				fontFamily: 'DejaVu Sans',
				color: '#1a1a1a',
			}}
		>
			<div style={{ textAlign: 'center', fontSize: 15.5, lineHeight: '18px', marginTop: 3 }}>Method</div>
			<div style={{ display: 'flex', justifyContent: 'center', gap: 31, marginTop: 4, lineHeight: '18px' }}>
				{METHODS.map((m, i) => (
					<div key={m} style={{ display: 'flex', alignItems: 'center' }}>
						<span
							style={{
								display: 'inline-block',
								width: 33,
								height: 2.5,
								background: `rgba(${COLORS[i]},0.82)`,
								marginRight: 11,
							}}
						></span>
						<span style={{ fontSize: 15 }}>{m}</span>
					</div>
				))}
			</div>
		</div>
	);
}

export default function App() {
	return (
		<div
			style={{
				position: 'absolute',
				left: 0,
				top: 0,
				width: 1376,
				height: 1113,
				background: '#fff',
				overflow: 'hidden',
			}}
		>
			<Legend />
			{PANELS.map((p, i) => (
				<Panel key={p.title} index={i} />
			))}
		</div>
	);
}
